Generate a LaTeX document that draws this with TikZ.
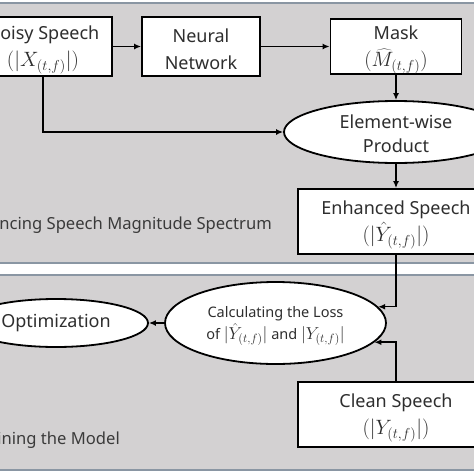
\documentclass[tikz,border=0pt]{standalone}
\usepackage{fontspec}
\setmainfont{Noto Sans}
\usetikzlibrary{shapes.geometric,arrows.meta}
\definecolor{panel}{HTML}{D3D1D2}
\definecolor{rulec}{HTML}{8A96A3}
\definecolor{ink}{HTML}{2E2E2E}
\definecolor{ink2}{HTML}{3A3A3A}
\newcommand{\bigmath}[1]{{\fontsize{19.5}{27}\selectfont$#1$}}
\newcommand{\midmath}[1]{{\fontsize{17}{22}\selectfont$#1$}}
\begin{document}
\begin{tikzpicture}[x=1pt,y=-1pt,
  box/.style={draw=black,fill=white,line width=1.8pt,inner sep=0pt,align=center,
    font=\fontsize{18}{27}\selectfont,text=ink},
  oval/.style={ellipse,draw=black,fill=white,line width=1.8pt,inner sep=0pt,align=center,
    font=\fontsize{18}{24}\selectfont,text=ink},
  conn/.style={line width=1.5pt,-{Latex[length=7pt,width=6pt]}},
  paneltext/.style={anchor=east,inner sep=0pt,text=ink2,font=\fontsize{16.6}{20}\selectfont},
  panelrule/.style={draw=rulec,line width=1.5pt}]
\clip (0,0) rectangle (474,474);
\fill[white] (0,0) rectangle (474,474);
% panels
\fill[panel] (-5,3) rectangle (479,263);
\draw[panelrule] (-5,3) -- (479,3) (-5,263) -- (479,263);
\fill[panel] (-5,275) rectangle (479,470);
\draw[panelrule] (-5,275) -- (479,275) (-5,470) -- (479,470);
% nodes
\node[box,minimum width=138pt,minimum height=59pt] (noisy) at (43,46.5)
  {\rule{0pt}{21pt}Noisy Speech\\\bigmath{(|X_{(t,f)}|)}};
\node[box,minimum width=118pt,minimum height=59pt] (nn) at (201,46.5)
  {\rule{0pt}{20pt}Neural\\Network};
\node[box,minimum width=131pt,minimum height=53pt] (mask) at (396,46.5)
  {\rule{0pt}{20.5pt}Mask\\\bigmath{(\widehat{M}_{(t,f)})}};
\node[oval,minimum width=224pt,minimum height=62pt] (ew) at (396,132)
  {\rule{0pt}{18pt}Element-wise\\Product};
\node[box,minimum width=196pt,minimum height=65pt] (enh) at (396,221.5)
  {\rule{0pt}{21pt}Enhanced Speech\\\bigmath{(\bigl|\hat{Y}_{(t,f)}\bigr|)}};
\node[oval,minimum width=221pt,minimum height=82pt,font=\fontsize{14.5}{22}\selectfont] (loss) at (275.5,323)
  {\rule{0pt}{17pt}Calculating the Loss\\of \midmath{\bigl|\hat{Y}_{(t,f)}\bigr|} and \midmath{\bigl|Y_{(t,f)}\bigr|}};
\node[oval,minimum width=184pt,minimum height=48pt] (opt) at (56,323) {Optimization};
\node[box,minimum width=196pt,minimum height=65pt] (clean) at (396,414.5)
  {\rule{0pt}{20.5pt}Clean Speech\\\bigmath{(\bigl|Y_{(t,f)}\bigr|)}};
% panel labels
\node[paneltext] (lab1) at (272,225) {Enhancing Speech Magnitude Spectrum};
\node[paneltext] (lab2) at (120,440) {Training the Model};
% connectors
\draw[conn] (noisy) -- (nn);
\draw[conn] (nn) -- (mask);
\draw[conn] (mask) -- (ew);
\draw[conn] (noisy.south) |- (ew.west);
\draw[conn] (ew) -- (enh);
\draw[conn] (enh.south) |- (loss.9);
\draw[conn] (clean.north) |- (loss.-11.7);
\draw[conn] (loss) -- (opt);
\end{tikzpicture}
\end{document}
